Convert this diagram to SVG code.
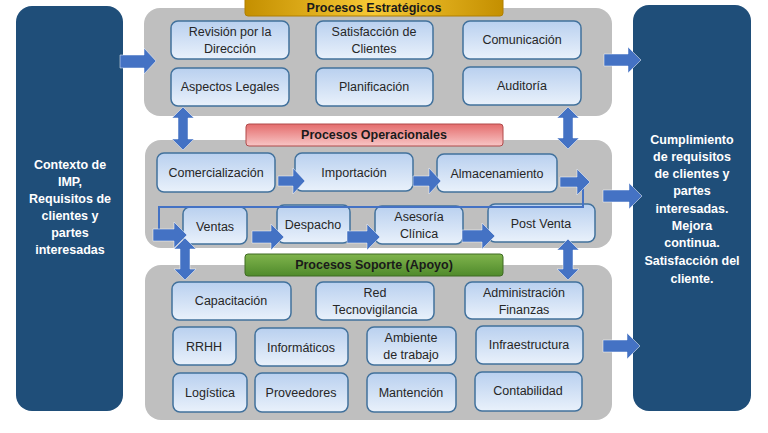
<svg xmlns="http://www.w3.org/2000/svg" width="768" height="433" viewBox="0 0 768 433">
<defs>
<linearGradient id="gNode" x1="0" y1="0" x2="0" y2="1">
<stop offset="0" stop-color="#b9d0ef"/>
<stop offset="1" stop-color="#e9f1fb"/>
</linearGradient>
<linearGradient id="gGold" x1="0" y1="0" x2="1" y2="0">
<stop offset="0" stop-color="#c48f00"/>
<stop offset="0.5" stop-color="#f7c935"/>
<stop offset="1" stop-color="#c48f00"/>
</linearGradient>
<linearGradient id="gRed" x1="0" y1="0" x2="0" y2="1">
<stop offset="0" stop-color="#e46c6c"/>
<stop offset="1" stop-color="#f8c6c6"/>
</linearGradient>
<linearGradient id="gGreen" x1="0" y1="0" x2="0" y2="1">
<stop offset="0" stop-color="#80b44c"/>
<stop offset="1" stop-color="#4f8a2b"/>
</linearGradient>
</defs>
<style>
.side{fill:#1f4e79;}
.panel{fill:#bfbfbf;}
.node{fill:url(#gNode);stroke:#41719c;stroke-width:1.5;}
.t{font-family:"Liberation Sans",Arial,sans-serif;font-size:12.5px;fill:#262626;text-anchor:middle;dominant-baseline:central;}
.st{font-family:"Liberation Sans",Arial,sans-serif;font-size:12.5px;font-weight:bold;fill:#ffffff;text-anchor:middle;dominant-baseline:central;}
.tt{font-family:"Liberation Sans",Arial,sans-serif;font-size:12.5px;font-weight:bold;fill:#1a1a1a;text-anchor:middle;dominant-baseline:central;}
.arr{fill:#4472c4;stroke:#ffffff;stroke-width:0.7;stroke-opacity:0.7;}
.ln{fill:none;stroke:#4472c4;stroke-width:2;}
</style>

<g id="contexto">
<rect class="side" x="16" y="6" width="107" height="405" rx="16"/>
<text class="st" x="70" y="165">Contexto de</text>
<text class="st" x="70" y="182">IMP,</text>
<text class="st" x="70" y="199">Requisitos de</text>
<text class="st" x="70" y="216">clientes y</text>
<text class="st" x="70" y="233">partes</text>
<text class="st" x="70" y="250">interesadas</text>
</g>

<g id="cumplimiento">
<rect class="side" x="633" y="5" width="118" height="406" rx="16"/>
<text class="st" x="692" y="140">Cumplimiento</text>
<text class="st" x="692" y="157">de requisitos</text>
<text class="st" x="692" y="174">de clientes y</text>
<text class="st" x="692" y="191">partes</text>
<text class="st" x="692" y="209">interesadas.</text>
<text class="st" x="692" y="226">Mejora</text>
<text class="st" x="692" y="243">continua.</text>
<text class="st" x="692" y="261">Satisfacción del</text>
<text class="st" x="692" y="279">cliente.</text>
</g>

<g id="panel-estrategicos">
<rect class="panel" x="144" y="8" width="468" height="108" rx="16"/>
<rect x="245" y="-6" width="258" height="22" rx="3" fill="url(#gGold)" stroke="#b07f00" stroke-width="1"/>
<text class="tt" x="374" y="7.5">Procesos Estratégicos</text>
</g>
<g id="panel-operacionales">
<rect class="panel" x="145" y="140" width="467" height="108" rx="16"/>
<rect x="246" y="124" width="257" height="22" rx="3" fill="url(#gRed)" stroke="#b04a4a" stroke-width="1"/>
<text class="tt" x="374" y="135">Procesos Operacionales</text>
</g>
<g id="panel-soporte">
<rect class="panel" x="145" y="265" width="467" height="155" rx="16"/>
<rect x="245" y="254" width="258" height="22" rx="3" fill="url(#gGreen)" stroke="#3e6b22" stroke-width="1"/>
<text class="tt" x="374" y="265">Procesos Soporte (Apoyo)</text>
</g>

<g id="n-revision"><rect class="node" x="171" y="21" width="118" height="38" rx="7"/><text class="t" x="230" y="32">Revisión por la</text><text class="t" x="230" y="49">Dirección</text></g>
<g id="n-satisfaccion"><rect class="node" x="316" y="21" width="117" height="38" rx="7"/><text class="t" x="374" y="32">Satisfacción de</text><text class="t" x="374" y="49">Clientes</text></g>
<g id="n-comunicacion"><rect class="node" x="463" y="21" width="118" height="38" rx="7"/><text class="t" x="522" y="40">Comunicación</text></g>
<g id="n-legales"><rect class="node" x="171" y="68" width="118" height="38" rx="7"/><text class="t" x="230" y="87">Aspectos Legales</text></g>
<g id="n-planificacion"><rect class="node" x="316" y="68" width="117" height="38" rx="7"/><text class="t" x="374" y="87">Planificación</text></g>
<g id="n-auditoria"><rect class="node" x="463" y="67" width="118" height="38" rx="7"/><text class="t" x="522" y="86">Auditoría</text></g>

<g id="n-comercializacion"><rect class="node" x="157" y="153" width="118" height="39" rx="7"/><text class="t" x="216" y="173">Comercialización</text></g>
<g id="n-importacion"><rect class="node" x="295" y="153" width="118" height="38" rx="7"/><text class="t" x="354" y="173">Importación</text></g>
<g id="n-almacenamiento"><rect class="node" x="437" y="154" width="120" height="38" rx="7"/><text class="t" x="497" y="174">Almacenamiento</text></g>
<g id="n-ventas"><rect class="node" x="183" y="207" width="64" height="37" rx="7"/><text class="t" x="215" y="227">Ventas</text></g>
<g id="n-despacho"><rect class="node" x="277" y="205" width="73" height="38" rx="7"/><text class="t" x="313" y="225">Despacho</text></g>
<g id="n-asesoria"><rect class="node" x="375" y="206" width="88" height="38" rx="7"/><text class="t" x="419" y="217">Asesoría</text><text class="t" x="419" y="234">Clínica</text></g>
<g id="n-postventa"><rect class="node" x="488" y="204" width="107" height="38" rx="7"/><text class="t" x="541" y="224">Post Venta</text></g>

<g id="n-capacitacion"><rect class="node" x="172" y="282" width="119" height="38" rx="7"/><text class="t" x="231" y="301">Capacitación</text></g>
<g id="n-red"><rect class="node" x="316" y="282" width="118" height="38" rx="7"/><text class="t" x="375" y="293">Red</text><text class="t" x="375" y="310">Tecnovigilancia</text></g>
<g id="n-admin"><rect class="node" x="465" y="282" width="118" height="37" rx="7"/><text class="t" x="524" y="293">Administración</text><text class="t" x="524" y="310">Finanzas</text></g>
<g id="n-rrhh"><rect class="node" x="173" y="327" width="63" height="38" rx="7"/><text class="t" x="204" y="347">RRHH</text></g>
<g id="n-informaticos"><rect class="node" x="255" y="328" width="93" height="38" rx="7"/><text class="t" x="301" y="348">Informáticos</text></g>
<g id="n-ambiente"><rect class="node" x="367" y="327" width="89" height="38" rx="7"/><text class="t" x="411" y="338">Ambiente</text><text class="t" x="411" y="355">de trabajo</text></g>
<g id="n-infraestructura"><rect class="node" x="476" y="326" width="107" height="38" rx="7"/><text class="t" x="529" y="345">Infraestructura</text></g>
<g id="n-logistica"><rect class="node" x="173" y="373" width="74" height="39" rx="7"/><text class="t" x="210" y="393">Logística</text></g>
<g id="n-proveedores"><rect class="node" x="255" y="373" width="93" height="39" rx="7"/><text class="t" x="301" y="393">Proveedores</text></g>
<g id="n-mantencion"><rect class="node" x="367" y="373" width="89" height="39" rx="7"/><text class="t" x="411" y="393">Mantención</text></g>
<g id="n-contabilidad"><rect class="node" x="475" y="372" width="107" height="39" rx="7"/><text class="t" x="528" y="391">Contabilidad</text></g>

<g id="connectors">
<path class="ln" d="M583,184 V207 H159 V231"/>
<polygon class="arr" points="120,55 144,55 144,48 156,61 144,74 144,68 120,68"/>
<polygon class="arr" points="604,54 628,54 628,47 641,60 628,73 628,66 604,66"/>
<polygon class="arr" points="603,190 629,190 629,183 642,196 629,209 629,202 603,202"/>
<polygon class="arr" points="603,340 627,340 627,333 640,346 627,359 627,352 603,352"/>
<polygon class="arr" points="278,176 293,176 293,168 305,181 293,194 293,186 278,186"/>
<polygon class="arr" points="413,176 429,176 429,168 441,181 429,194 429,186 413,186"/>
<polygon class="arr" points="560,177 577,177 577,169 590,182 577,195 577,187 560,187"/>
<polygon class="arr" points="153,229 174,229 174,222 187,235 174,248 174,241 153,241"/>
<polygon class="arr" points="252,231 271,231 271,224 284,237 271,250 271,243 252,243"/>
<polygon class="arr" points="347,231 367,231 367,224 380,237 367,250 367,243 347,243"/>
<polygon class="arr" points="462,230 482,230 482,223 495,236 482,249 482,242 462,242"/>
<polygon class="arr" points="183,107 194,118 188,118 188,139 194,139 183,150 172,139 178,139 178,118 172,118"/>
<polygon class="arr" points="568,107 579,118 573,118 573,138 579,138 568,149 557,138 563,138 563,118 557,118"/>
<polygon class="arr" points="185,238 196,249 190,249 190,269 196,269 185,280 174,269 180,269 180,249 174,249"/>
<polygon class="arr" points="568,239 579,250 573,250 573,269 579,269 568,280 557,269 563,269 563,250 557,250"/>
</g>
</svg>
